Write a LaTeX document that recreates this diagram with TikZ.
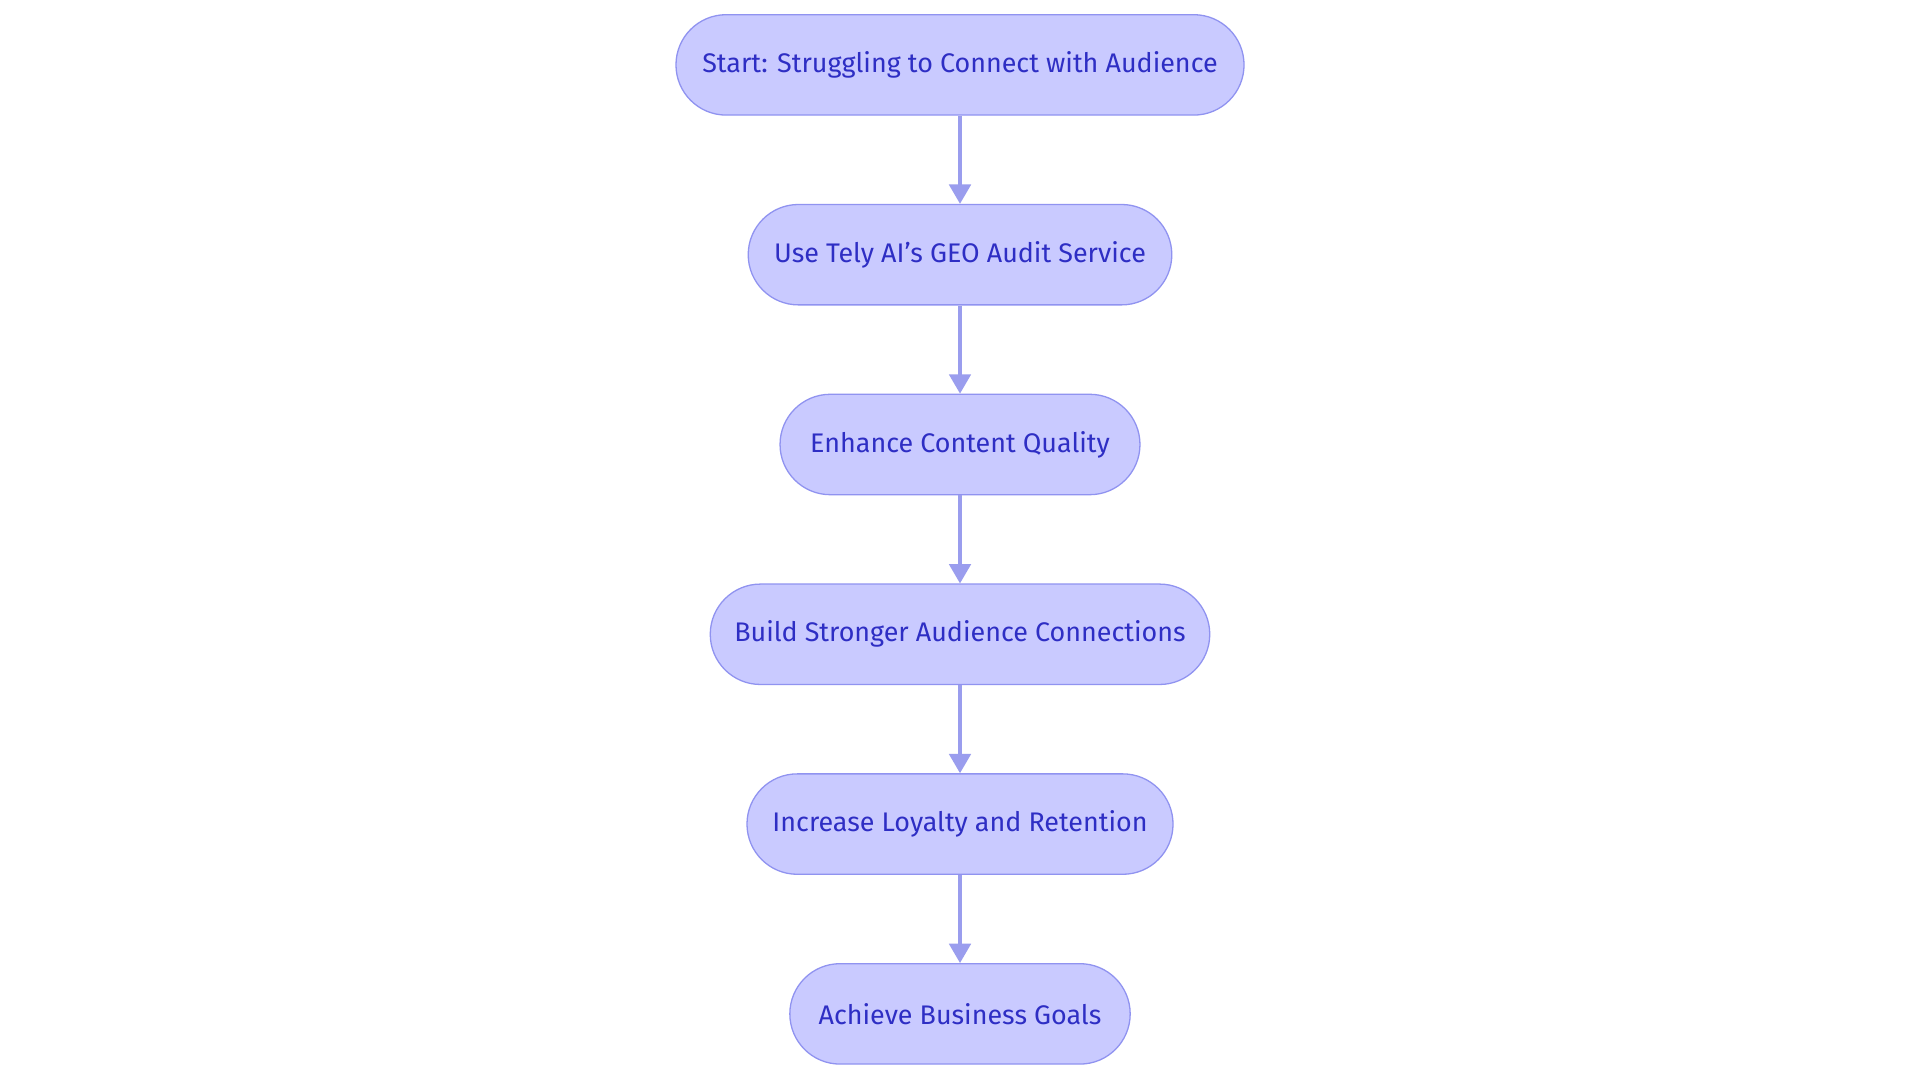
\documentclass[tikz,border=0pt]{standalone}
\usepackage{fontspec}
\setmainfont{Fira Sans}
\usetikzlibrary{arrows.meta}
\definecolor{nfill}{HTML}{C9CAFF}
\definecolor{ndraw}{HTML}{9093F0}
\definecolor{ntext}{HTML}{2E2EC4}
\definecolor{arr}{HTML}{9A9DEE}
\begin{document}
\begin{tikzpicture}[x=0.02cm,y=-0.02cm,
  box/.style={draw=ndraw,fill=nfill,text=ntext,rounded corners=0.82cm,minimum height=1.64cm,inner sep=0pt,font=\fontsize{12.5pt}{14pt}\selectfont,line width=0.6pt},
  link/.style={draw=arr,line width=1.6pt,-{Triangle[length=9pt,width=10pt]}}]
\useasboundingbox[fill=white] (0,0) rectangle (1568,884);
\node[box,minimum width=9.28cm] (n1) at (784,53) {Start: Struggling to Connect with Audience};
\node[box,minimum width=6.92cm] (n2) at (784,208) {Use Tely AI's GEO Audit Service};
\node[box,minimum width=5.88cm] (n3) at (784,363) {Enhance Content Quality};
\node[box,minimum width=8.16cm] (n4) at (784,518) {Build Stronger Audience Connections};
\node[box,minimum width=6.96cm] (n5) at (784,673) {Increase Loyalty and Retention};
\node[box,minimum width=5.56cm] (n6) at (784,828) {Achieve Business Goals};
\draw[link] (n1) -- (n2);
\draw[link] (n2) -- (n3);
\draw[link] (n3) -- (n4);
\draw[link] (n4) -- (n5);
\draw[link] (n5) -- (n6);
\end{tikzpicture}
\end{document}
